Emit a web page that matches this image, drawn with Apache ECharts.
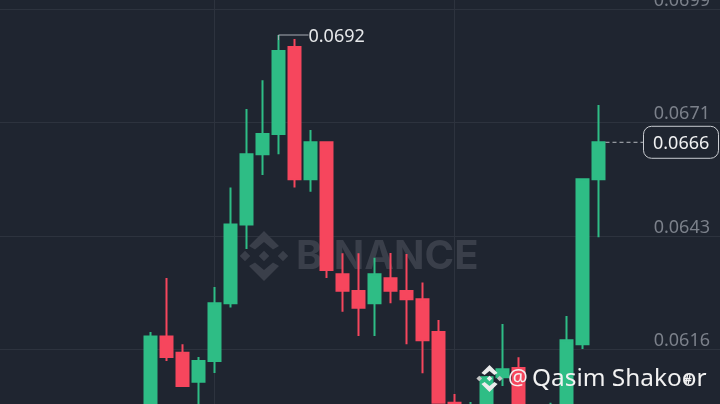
<!DOCTYPE html>
<html>

<head>
    <title></title>
    <meta http-equiv="content-type" content="text/html; charset=UTF-8">
    <style>
        html, body { margin: 0; padding: 0; background: #1f2530; }
        #container { width: 720px; height: 404px; }
    </style>
</head>

<body>
    <div id="container"></div>

    <script src="https://cdn.jsdelivr.net/npm/echarts@6/dist/echarts.min.js"></script>
    <script type="text/javascript">
        // slots 0-8 and 38-45 are empty, the candles start at slot 9
        var slotCount = 46;
        var firstCandleSlot = 9;

        // [open, close, low, high]
        // parts below the bottom edge of the picture are estimates
        var candleValues = [
            [0.059826, 0.061868, 0.059581, 0.061978],
            [0.061868, 0.061366, 0.061269, 0.063298],
            [0.061471, 0.060657, 0.060657, 0.061677],
            [0.060763, 0.061269, 0.059826, 0.061366],
            [0.061269, 0.062679, 0.060975, 0.063078],
            [0.062679, 0.064606, 0.062577, 0.065511],
            [0.064606, 0.066322, 0.064007, 0.067430],
            [0.066322, 0.066819, 0.065816, 0.068132],
            [0.066819, 0.068848, 0.066322, 0.069239],
            [0.068946, 0.065711, 0.065511, 0.069141],
            [0.065711, 0.066616, 0.065408, 0.066917],
            [0.066616, 0.063494, 0.063298, 0.066616],
            [0.063388, 0.062987, 0.062474, 0.063902],
            [0.062980, 0.062572, 0.061880, 0.063902],
            [0.062679, 0.063388, 0.061880, 0.063794],
            [0.063291, 0.062987, 0.062679, 0.063909],
            [0.062980, 0.062777, 0.061677, 0.063885],
            [0.062777, 0.061775, 0.060968, 0.063188],
            [0.061978, 0.060249, 0.060249, 0.062271],
            [0.060249, 0.059704, 0.059337, 0.060462],
            [0.059600, 0.060000, 0.059500, 0.060266],
            [0.059500, 0.060870, 0.059300, 0.060900],
            [0.060870, 0.061066, 0.060657, 0.062173],
            [0.061098, 0.059700, 0.059500, 0.061359],
            [0.059700, 0.060000, 0.059500, 0.060100],
            [0.059800, 0.060100, 0.059600, 0.060249],
            [0.060000, 0.061775, 0.059800, 0.062369],
            [0.061677, 0.065711, 0.061562, 0.065711],
            [0.065711, 0.066616, 0.064293, 0.067528]
        ];

        var priceTicks = [0.061562, 0.064325, 0.0671, 0.069875];
        var priceMin = 0.060217;
        var priceMax = 0.070095;
        var timeLineSlots = [13, 28];

        var highLabel = '0.0692';
        var highCandle = 8;
        var lastLabel = '0.0666';
        var lastCandle = 28;

        var categories = [];
        var seriesData = [];
        for (var i = 0; i < slotCount; i++) {
            categories.push(String(i));
            var c = candleValues[i - firstCandleSlot];
            seriesData.push(c ? c : ['-', '-', '-', '-']);
        }

        var fontName = 'Noto Sans';
        var green = '#2ebd85';
        var red = '#f6465d';
        var gridColor = '#2d333e';

        var dom = document.getElementById('container');
        var myChart = echarts.init(dom, null, { renderer: 'canvas' });

        myChart.setOption({
            backgroundColor: '#1f2530',
            animation: false,
            grid: { left: -1.5, right: -14.5, top: 0, bottom: 0, outerBoundsMode: 'none' },
            xAxis: {
                type: 'category',
                data: categories,
                axisLine: { show: false },
                axisTick: { show: false },
                axisLabel: { show: false },
                splitLine: {
                    show: true,
                    alignWithLabel: true,
                    interval: function (index) {
                        return timeLineSlots.indexOf(index) >= 0;
                    },
                    lineStyle: { color: gridColor, width: 1 }
                }
            },
            yAxis: {
                type: 'value',
                position: 'right',
                min: priceMin,
                max: priceMax,
                axisLine: { show: false },
                axisTick: { show: false, customValues: priceTicks },
                axisLabel: {
                    inside: true,
                    margin: 24.5,
                    customValues: priceTicks,
                    verticalAlign: 'bottom',
                    lineHeight: 17,
                    color: '#7b808a',
                    fontFamily: fontName,
                    fontSize: 18,
                    formatter: function (v) {
                        return v.toFixed(4);
                    }
                },
                splitLine: { show: true, lineStyle: { color: gridColor, width: 1 } }
            },
            series: [{
                type: 'candlestick',
                data: seriesData,
                barWidth: 13,
                itemStyle: {
                    color: green,
                    borderColor: green,
                    color0: red,
                    borderColor0: red,
                    borderWidth: 2
                }
            }]
        });

        function logo(cx, cy, r, color, sideColor, z) {
            function scale(points) {
                return points.map(function (p) {
                    return [cx + p[0] * r, cy + p[1] * r];
                });
            }
            function diamond(x, y) {
                return [[x, y - 0.21], [x + 0.21, y], [x, y + 0.21], [x - 0.21, y]];
            }
            var parts = [
                [[[0, -1], [0.6, -0.4], [0.36, -0.26], [0, -0.56], [-0.36, -0.26], [-0.6, -0.4]], color],
                [[[0, 1], [0.6, 0.4], [0.36, 0.26], [0, 0.56], [-0.36, 0.26], [-0.6, 0.4]], color],
                [diamond(0, 0), color],
                [diamond(-0.76, 0), sideColor],
                [diamond(0.76, 0), sideColor]
            ];
            return parts.map(function (part) {
                return {
                    type: 'polygon',
                    z: z,
                    silent: true,
                    shape: { points: scale(part[0]) },
                    style: { fill: part[1] }
                };
            });
        }

        // annotations hang off the candles through the chart's own scales
        var highPos = myChart.convertToPixel({ xAxisIndex: 0, yAxisIndex: 0 },
            [firstCandleSlot + highCandle, candleValues[highCandle][3]]);
        var lastPos = myChart.convertToPixel({ xAxisIndex: 0, yAxisIndex: 0 },
            [firstCandleSlot + lastCandle, candleValues[lastCandle][1]]);

        var elements = logo(264, 256, 25, '#3a3f4a', '#3a3f4a', 0).concat(logo(489.5, 378.5, 13.5, '#ececec', '#c4c4c4', 100));

        elements.push({
            type: 'text', z: 0, silent: true, x: 296, y: 257,
            style: { text: 'BINANCE', fill: '#3a3f4a', font: 'bold 40px "Inter"', textVerticalAlign: 'middle', opacity: 1 }
        });
        elements.push({
            type: 'polyline', z: 10, silent: true,
            shape: { points: [[highPos[0], highPos[1] + 5], [highPos[0], highPos[1]], [highPos[0] + 30, highPos[1]]] },
            style: { stroke: '#a9adb4', lineWidth: 1, fill: null }
        });
        elements.push({
            type: 'text', z: 10, silent: true, x: highPos[0] + 30, y: highPos[1] + 1.5,
            style: { text: highLabel, fill: '#e6e8ea', font: '18px "' + fontName + '"', textVerticalAlign: 'middle' }
        });
        elements.push({
            type: 'line', z: 10, silent: true,
            shape: { x1: lastPos[0] + 7, y1: lastPos[1], x2: 643, y2: lastPos[1] },
            style: { stroke: '#b4b7bd', lineWidth: 1, lineDash: [4, 3] }
        });
        elements.push({
            type: 'rect', z: 10, silent: true,
            shape: { x: 643.5, y: lastPos[1] - 16, width: 75, height: 32, r: 8 },
            style: { fill: '#1f2530', stroke: '#c9ccd1', lineWidth: 1 }
        });
        elements.push({
            type: 'text', z: 11, silent: true, x: 653, y: lastPos[1] + 1.5,
            style: { text: lastLabel, fill: '#f0f1f2', font: '18px "' + fontName + '"', textVerticalAlign: 'middle' }
        });
        elements.push({
            type: 'text', z: 100, silent: true, x: 508, y: 379,
            style: { text: '@', fill: '#f2f2f2', font: '22px "' + fontName + '"', textVerticalAlign: 'middle' }
        });
        elements.push({
            type: 'text', z: 100, silent: true, x: 532, y: 379,
            style: { text: 'Qasim Shakoor', fill: '#f2f2f2', font: '24.4px "' + fontName + '"', textVerticalAlign: 'middle' }
        });
        elements.push({
            type: 'text', z: 101, silent: true, x: 684, y: 381,
            style: { text: '#', fill: '#f2f2f2', font: 'bold 12px "' + fontName + '"', textVerticalAlign: 'middle' }
        });

        myChart.setOption({ graphic: { elements: elements } });
    </script>
</body>

</html>
